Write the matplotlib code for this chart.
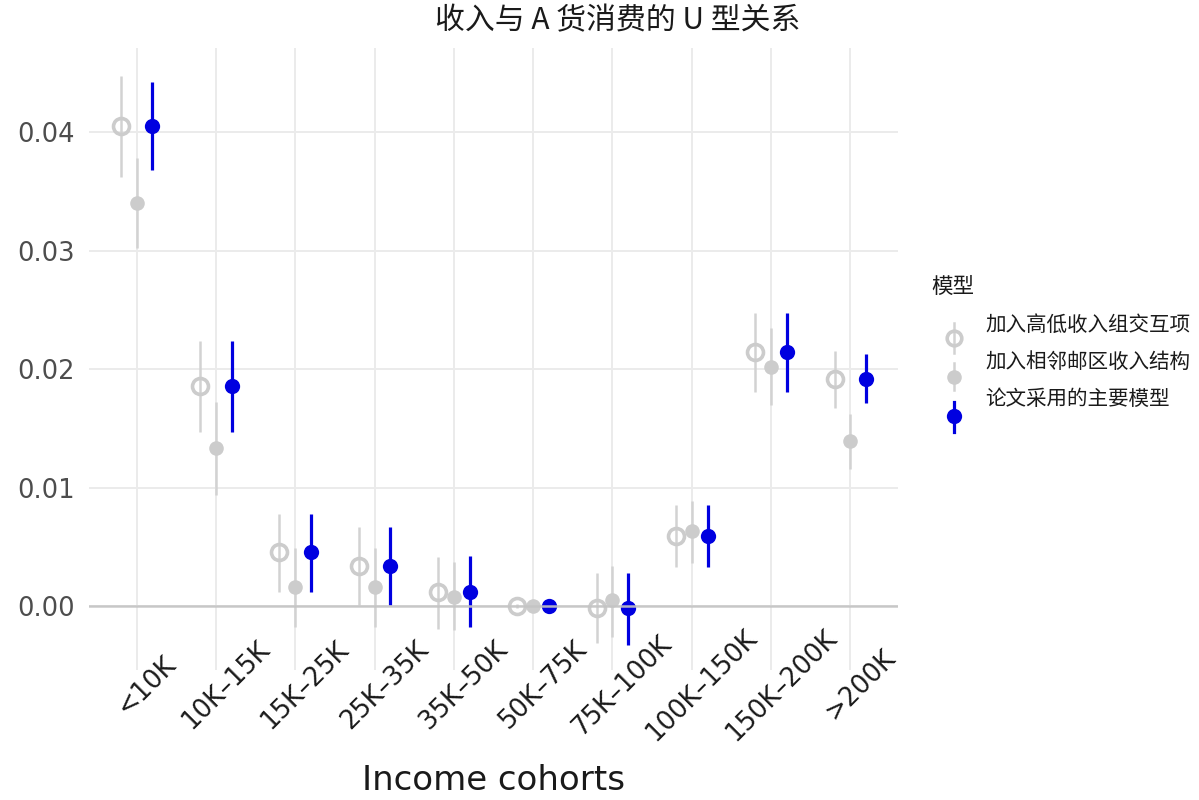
import matplotlib
matplotlib.use('Agg')
import matplotlib.pyplot as plt
from matplotlib.lines import Line2D
from matplotlib.transforms import ScaledTranslation
import numpy as np

plt.rcParams['font.family'] = ['DejaVu Sans', 'Noto Sans CJK SC']

cohorts = ['<10K', '10K–15K', '15K–25K', '25K–35K', '35K–50K',
           '50K–75K', '75K–100K', '100K–150K', '150K–200K', '>200K']
models = ['加入高低收入组交互项', '加入相邻邮区收入结构', '论文采用的主要模型']

# model 1: interaction of high/low income groups (hollow grey)
est_inter = [0.0405, 0.0186, 0.0046, 0.0034, 0.0012, 0.0000, -0.0002, 0.0059, 0.0214, 0.0192]
lo_inter = [0.0362, 0.0147, 0.0012, 0.0001, -0.0019, -0.0002, -0.0031, 0.0033, 0.0181, 0.0167]
hi_inter = [0.0447, 0.0224, 0.0078, 0.0067, 0.0041, 0.0002, 0.0028, 0.0085, 0.0247, 0.0215]

# model 2: neighbouring zip income structure (filled grey)
est_neigh = [0.0340, 0.0133, 0.0016, 0.0016, 0.0008, 0.0000, 0.0005, 0.0063, 0.0202, 0.0139]
lo_neigh = [0.0302, 0.0094, -0.0018, -0.0018, -0.0020, -0.0002, -0.0026, 0.0036, 0.0170, 0.0116]
hi_neigh = [0.0378, 0.0172, 0.0049, 0.0049, 0.0037, 0.0002, 0.0034, 0.0089, 0.0235, 0.0162]

# model 3: main model of the paper (blue)
est_main = [0.0405, 0.0186, 0.0046, 0.0034, 0.0012, 0.0000, -0.0002, 0.0059, 0.0214, 0.0192]
lo_main = [0.0368, 0.0147, 0.0012, 0.0001, -0.0018, -0.0002, -0.0033, 0.0033, 0.0181, 0.0171]
hi_main = [0.0442, 0.0224, 0.0078, 0.0067, 0.0042, 0.0002, 0.0028, 0.0085, 0.0247, 0.0213]

GREY_LINE = '#d2d2d2'
GREY_PT = '#cccccc'
BLUE = '#0000e0'

fig = plt.figure(figsize=(11.99, 8), dpi=100)
ax = fig.add_axes([89/1199, 130/800, (898-89)/1199, (670-48)/800])

x = np.arange(len(cohorts))
hollow = dict(marker='o', ms=11.5, mfc='none', mec=GREY_PT, mew=2.6)
grey_pt = dict(marker='o', ms=10.5, mfc=GREY_PT, mec=GREY_PT, mew=0)
blue_pt = dict(marker='o', ms=11, mfc=BLUE, mec=BLUE, mew=0)
series = [
    (est_inter, lo_inter, hi_inter, -0.2, hollow, GREY_LINE, 1.8),
    (est_neigh, lo_neigh, hi_neigh, 0.0, grey_pt, GREY_LINE, 1.8),
    (est_main, lo_main, hi_main, 0.2, blue_pt, BLUE, 2.3),
]
for est, lo, hi, dx, mk, lc, lw in series:
    xs = x + dx
    ax.vlines(xs, lo, hi, color=lc, lw=lw, zorder=3)
    ax.plot(xs, est, ls='none', zorder=4, **mk)

ax.axhline(0, color='#c4c4c4', lw=1.8, zorder=5, alpha=0.9)

ax.set_xlim(-0.6, 9.6)
ax.set_ylim(-0.0054, 0.0471)
ax.set_yticks([0, 0.01, 0.02, 0.03, 0.04])
ax.set_yticklabels(['0.00', '0.01', '0.02', '0.03', '0.04'])
ax.set_xticks(x)
ax.set_xticklabels(cohorts, rotation=45, ha='center', va='center', rotation_mode='anchor')
ax.grid(True, color='#ebebeb', lw=1.4, zorder=0)
ax.set_axisbelow(True)
for s in ax.spines.values():
    s.set_visible(False)
ax.tick_params(axis='both', length=0)
ax.tick_params(axis='y', labelsize=18.5, labelcolor='#4d4d4d', pad=10)
ax.tick_params(axis='x', labelsize=18.5, labelcolor='#1a1a1a', pad=11)
off = ScaledTranslation(0.10, 0, fig.dpi_scale_trans)
for lab in ax.get_xticklabels():
    lab.set_transform(lab.get_transform() + off)

ax.set_xlabel('Income cohorts', fontsize=24.5, color='#1a1a1a', va='center')
ax.xaxis.set_label_coords(0.5, (670 - 780) / 622)

fig.text(618/1199, 1 - 21/800, '收入与 A 货消费的 U 型关系', ha='center', va='center',
         fontsize=21.5, color='#1a1a1a', family=['Noto Sans CJK SC', 'DejaVu Sans'])

# legend drawn by hand to match the layout
def fx(px): return px / 1199
def fy(py): return 1 - py / 800

fig.text(fx(931), fy(287), '模型', ha='left', va='center', fontsize=15.5,
         family=['Noto Sans CJK SC', 'DejaVu Sans'], color='#1a1a1a')
keys = [
    (338, 323, 353, dict(hollow, ms=10.5), GREY_LINE, 1.8),
    (377, 363, 390, grey_pt, GREY_LINE, 1.8),
    (416, 402, 432, blue_pt, BLUE, 2.3),
]
for (cy, y1, y2, mk, lc, lw) in keys:
    fig.add_artist(Line2D([fx(954), fx(954)], [fy(y1), fy(y2)], color=lc, lw=lw,
                          transform=fig.transFigure))
    fig.add_artist(Line2D([fx(954)], [fy(cy)], ls='none', transform=fig.transFigure, **mk))
for name, ty in zip(models, [325, 362, 399]):
    fig.text(fx(985), fy(ty), name, ha='left', va='center', fontsize=14.8,
             family=['Noto Sans CJK SC', 'DejaVu Sans'], color='#1a1a1a')

fig.savefig('out.png', dpi=100, facecolor='white')
